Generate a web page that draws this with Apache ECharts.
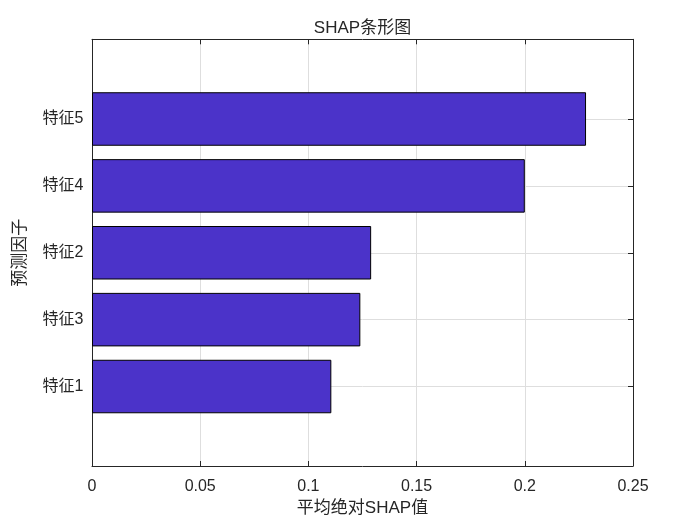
<!DOCTYPE html>
<html>
<head>
<meta charset="utf-8">
<script src="https://cdn.jsdelivr.net/npm/echarts@6/dist/echarts.min.js"></script>
<style>html,body{margin:0;padding:0;background:#fff;}#chart{width:700px;height:525px;}</style>
</head>
<body>
<div id="chart"></div>
<script>
// Data (bottom to top)
const categories = ['特征1', '特征3', '特征2', '特征4', '特征5'];
const meanAbsShap = [0.1106, 0.1240, 0.1290, 0.2000, 0.2283];
const xTicks = { min: 0, max: 0.25, interval: 0.05 };

const FONT = "'Liberation Sans', 'Noto Sans CJK SC', sans-serif";
const TXT = '#262626';
const GRID = '#dedede';

const chart = echarts.init(document.getElementById('chart'));
chart.setOption({
  backgroundColor: '#fff',
  animation: false,
  title: {
    text: 'SHAP条形图',
    left: 362.5, top: 19.5, textAlign: 'center', padding: 0,
    textStyle: { fontFamily: FONT, fontSize: 17, fontWeight: 'normal', color: TXT }
  },
  grid: [
    { left: 92, top: 39.3, width: 541, height: 426.7, containLabel: false },
    { left: 92, top: 85.56, width: 541, height: 334.4, containLabel: false }
  ],
  xAxis: [
    {
      gridIndex: 0, type: 'value', position: 'bottom',
      min: xTicks.min, max: xTicks.max, interval: xTicks.interval,
      axisLine: { show: true, onZero: false, lineStyle: { color: TXT, width: 1 } },
      axisTick: { show: true, inside: true, length: 5, lineStyle: { color: TXT } },
      axisLabel: { color: TXT, fontFamily: FONT, fontSize: 16, margin: 13 },
      splitLine: { show: true, lineStyle: { color: GRID, width: 1 } },
      name: '平均绝对SHAP值', nameLocation: 'middle', nameGap: 33,
      nameTextStyle: { color: TXT, fontFamily: FONT, fontSize: 17 }
    },
    {
      gridIndex: 0, type: 'value', position: 'top',
      min: xTicks.min, max: xTicks.max, interval: xTicks.interval,
      axisLine: { show: true, onZero: false, lineStyle: { color: TXT, width: 1 } },
      axisTick: { show: true, inside: true, length: 5, lineStyle: { color: TXT } },
      axisLabel: { show: false },
      splitLine: { show: false }
    },
    {
      gridIndex: 1, type: 'value', show: false,
      min: xTicks.min, max: xTicks.max, interval: xTicks.interval,
      splitLine: { show: false }
    }
  ],
  yAxis: [
    {
      gridIndex: 0, type: 'value', position: 'left', min: 0, max: 1,
      axisLine: { show: true, onZero: false, lineStyle: { color: TXT, width: 1 } },
      axisTick: { show: false }, axisLabel: { show: false }, splitLine: { show: false },
      name: '预测因子', nameLocation: 'middle', nameRotate: 90, nameGap: 63,
      nameTextStyle: { color: TXT, fontFamily: FONT, fontSize: 17 }
    },
    {
      gridIndex: 0, type: 'value', position: 'right', min: 0, max: 1,
      axisLine: { show: true, onZero: false, lineStyle: { color: TXT, width: 1 } },
      axisTick: { show: false }, axisLabel: { show: false }, splitLine: { show: false }
    },
    {
      gridIndex: 1, type: 'category', position: 'left', data: categories,
      axisLine: { show: false },
      axisTick: { show: true, inside: true, length: 5, alignWithLabel: true, lineStyle: { color: TXT } },
      axisLabel: { color: TXT, fontFamily: FONT, fontSize: 16, margin: 8.5 },
      splitLine: { show: true, alignWithLabel: true, lineStyle: { color: GRID, width: 1 } }
    },
    {
      gridIndex: 1, type: 'category', position: 'right', data: categories,
      axisLine: { show: false },
      axisTick: { show: true, inside: true, length: 5, alignWithLabel: true, lineStyle: { color: TXT } },
      axisLabel: { show: false },
      splitLine: { show: false }
    }
  ],
  series: [
    {
      type: 'bar', xAxisIndex: 2, yAxisIndex: 2,
      data: meanAbsShap,
      barWidth: '80%',
      itemStyle: { color: '#4B33C9', borderColor: '#000', borderWidth: 1 },
      z: 3
    }
  ]
});
</script>
</body>
</html>
